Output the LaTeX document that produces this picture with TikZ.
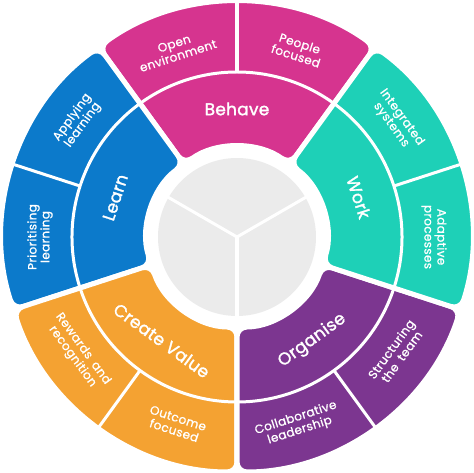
\documentclass[tikz,border=0pt]{standalone}
\usepackage{fontspec}
\setmainfont{Poppins}
\newfontfamily\mainfam{Poppins}[FakeBold=1.6,LetterSpace=1.5]
\newfontfamily\subfam{Poppins}[FakeBold=0.9,LetterSpace=3,WordSpace=1.8]
\usetikzlibrary{calc}
\definecolor{whpink}{RGB}{214,52,143}
\definecolor{whteal}{RGB}{30,208,183}
\definecolor{whpurple}{RGB}{124,54,144}
\definecolor{whorange}{RGB}{244,162,50}
\definecolor{whblue}{RGB}{12,122,203}
\definecolor{whgrey}{RGB}{235,235,235}
\tikzset{
  mainlbl/.style={text=white,align=center,font=\mainfam\fontsize{17}{19}\selectfont},
  sublbl/.style={text=white,align=center,font=\subfam\fontsize{12}{13}\selectfont},
  gap/.style={white,line width=3}
}

\begin{document}
\begin{tikzpicture}[x=1pt,y=1pt]
    \useasboundingbox (-237,-236) rectangle (237,237);
    % five segments: start angle / colour / name / main label / rotation
    \foreach \s/\col/\nm/\main/\rot in {54/whpink/behave/Behave/0,
        126/whblue/learn/Learn/72, 198/whorange/value/Create Value/-36,
        270/whpurple/organise/Organise/36, 342/whteal/work/Work/-72}{
      \path[fill=\col,draw=white,line width=5,rounded corners=10]
        (\s:90) arc[start angle=\s,end angle=\s+72,radius=90]
        -- (\s+72:235) arc[start angle=\s+72,end angle=\s,radius=235] -- cycle;
      \draw[gap] (\s:165) arc[start angle=\s,end angle=\s+72,radius=165];
      \draw[gap] (\s+36:165) -- (\s+36:236);
      \node[mainlbl,rotate=\rot] (\nm) at (\s+36:128) {\main};
    }
    % outer labels
    \node[sublbl,rotate=-18] (people) at (72:197) {People\\focused};
    \node[sublbl,rotate=18] (open) at (108:197) {Open\\environment};
    \node[sublbl,rotate=54] (apply) at (144:197) {Applying\\learning};
    \node[sublbl,rotate=90] (prior) at (180:197) {Prioritising\\learning};
    \node[sublbl,rotate=-54] (reward) at (216:197) {Rewards and\\recognition};
    \node[sublbl,rotate=-18] (outcome) at (252:197) {Outcome\\focused};
    \node[sublbl,rotate=18] (collab) at (288:197) {Collaborative\\leadership};
    \node[sublbl,rotate=54] (struct) at (324:197) {Structuring\\the team};
    \node[sublbl,rotate=-90] (adapt) at (0:197) {Adaptive\\processes};
    \node[sublbl,rotate=-54] (integ) at (36:197) {Integrated\\systems};
    % centre disc
    \fill[whgrey] (0,0) circle[radius=79];
    \foreach \a in {30,150,270}{\draw[gap] (0,0) -- (\a:80);}
  \end{tikzpicture}
\end{document}
